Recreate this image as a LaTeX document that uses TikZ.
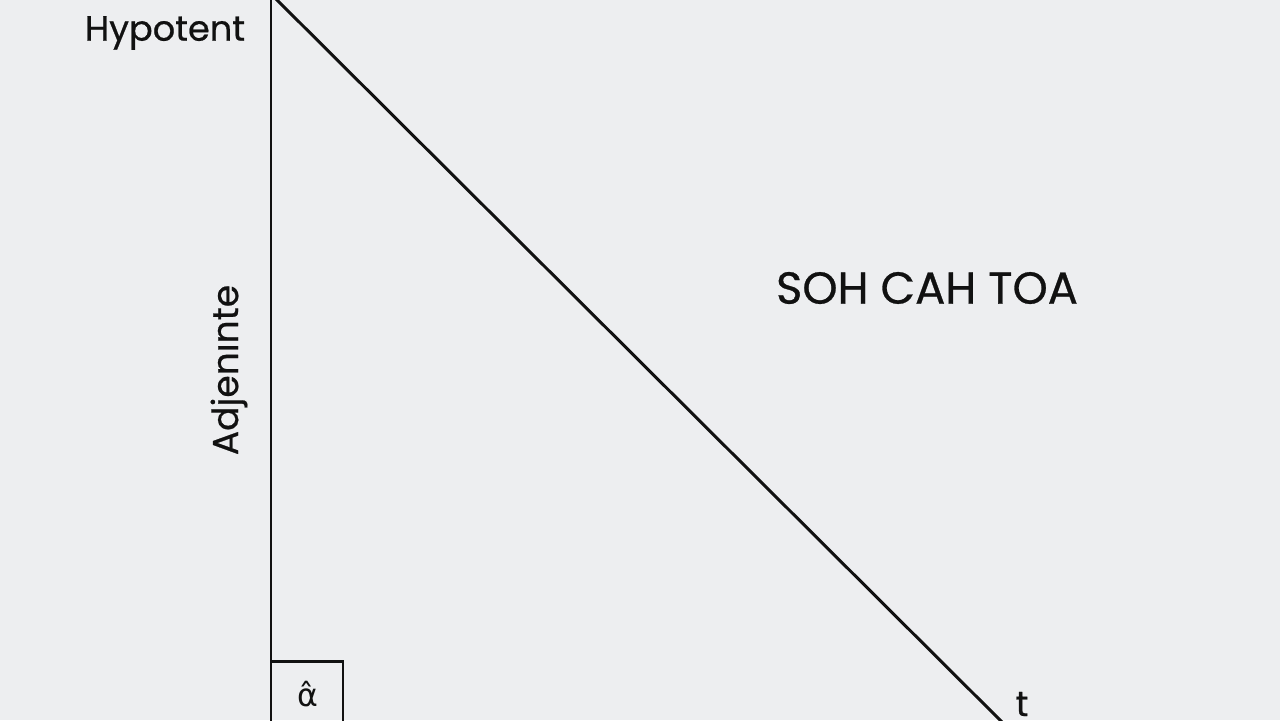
\documentclass[tikz,border=0pt]{standalone}
\usepackage{fontspec}
\setmainfont{Poppins}[UprightFeatures={FakeBold=0.6}]
\newfontfamily\greekfont{DejaVu Sans}
\definecolor{bgpaper}{HTML}{EDEEF0}
\definecolor{inkline}{HTML}{111111}
\tikzset{
  side/.style={draw=inkline, line width=1.7pt},
  lbl/.style={text=inkline, inner sep=0pt}
}
\begin{document}
\begin{tikzpicture}[x=0.02cm, y=-0.02cm]

\fill[bgpaper] (0,0) rectangle (1280,720);
\useasboundingbox (0,0) rectangle (1280,720);

\coordinate (top) at (273,-4);
\coordinate (corner) at (271,724);
\coordinate (tip) at (1004,724);
\coordinate (sqa) at (271,661);
\coordinate (sqb) at (343,661);
\coordinate (sqc) at (343,724);

\draw[side] (corner) -- (271,-4);
\draw[side] (top) -- (tip);
\draw[side] (sqa) -- (sqb) -- (sqc);

\node[lbl, font=\fontsize{20}{24}\selectfont] (hyp) at (165,33) {Hypotent};
\node[lbl, font=\fontsize{20.5}{24}\selectfont, rotate=90] (adj) at (229,370) {Adjenınte};
\node[lbl, font=\fontsize{25.5}{30}\selectfont] (soh) at (927,288) {SOH CAH TOA};
\node[lbl, font=\greekfont\fontsize{18}{21}\selectfont] (ang) at (308,694) {α̂};
\node[lbl, font=\fontsize{20}{24}\selectfont] (opp) at (1022,704) {t};

\end{tikzpicture}
\end{document}
